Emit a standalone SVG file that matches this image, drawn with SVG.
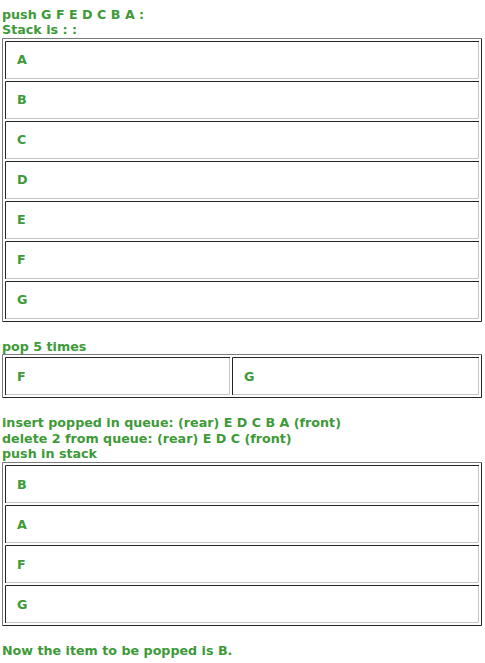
<svg xmlns="http://www.w3.org/2000/svg" width="485" height="663" viewBox="0 0 485 663">
<style>
text{font-family:"DejaVu Sans","Verdana",sans-serif;font-weight:bold;font-size:12.7px;fill:#3e9a38}
.og{fill:none;stroke:#7a7a7a;stroke-width:1}
.od{fill:none;stroke:#262626;stroke-width:1}
.cd{fill:none;stroke:#262626;stroke-width:1}
.cl{fill:none;stroke:#c4c4c4;stroke-width:1}
</style>
<rect width="485" height="663" fill="#fff"/>
<g id="captions">
<text x="2" y="19">push G F E D C B A :</text>
<text x="2" y="34">Stack is : :</text>
<text x="2" y="351">pop 5 times</text>
<text x="2" y="427">insert popped in queue: (rear) E D C B A (front)</text>
<text x="2" y="443">delete 2 from queue: (rear) E D C (front)</text>
<text x="2" y="458">push in stack</text>
<text x="2" y="655">Now the item to be popped is B.</text>
</g>
<g id="stack1">
<path class="og" d="M2.5,322V38.5H482"/><path class="od" d="M481.5,39V321.5H3"/>
<g id="s1-A"><path class="cd" d="M5.5,79V41.5H479"/><path class="cl" d="M478.5,42V78.5H6"/><text x="17" y="64">A</text></g>
<g id="s1-B"><path class="cd" d="M5.5,119V81.5H479"/><path class="cl" d="M478.5,82V118.5H6"/><text x="17" y="104">B</text></g>
<g id="s1-C"><path class="cd" d="M5.5,159V121.5H479"/><path class="cl" d="M478.5,122V158.5H6"/><text x="17" y="144">C</text></g>
<g id="s1-D"><path class="cd" d="M5.5,199V161.5H479"/><path class="cl" d="M478.5,162V198.5H6"/><text x="17" y="184">D</text></g>
<g id="s1-E"><path class="cd" d="M5.5,239V201.5H479"/><path class="cl" d="M478.5,202V238.5H6"/><text x="17" y="224">E</text></g>
<g id="s1-F"><path class="cd" d="M5.5,279V241.5H479"/><path class="cl" d="M478.5,242V278.5H6"/><text x="17" y="264">F</text></g>
<g id="s1-G"><path class="cd" d="M5.5,319V281.5H479"/><path class="cl" d="M478.5,282V318.5H6"/><text x="17" y="304">G</text></g>
</g>
<g id="popped">
<path class="og" d="M2.5,398V354.5H482"/><path class="od" d="M481.5,355V397.5H3"/>
<g id="p-F"><path class="cd" d="M5.5,395V357.5H230"/><path class="cl" d="M229.5,358V394.5H6"/><text x="17" y="381">F</text></g>
<g id="p-G"><path class="cd" d="M232.5,395V357.5H479"/><path class="cl" d="M478.5,358V394.5H233"/><text x="244" y="381">G</text></g>
</g>
<g id="stack2">
<path class="og" d="M2.5,626V462.5H482"/><path class="od" d="M481.5,463V625.5H3"/>
<g id="s2-B"><path class="cd" d="M5.5,503V465.5H479"/><path class="cl" d="M478.5,466V502.5H6"/><text x="17" y="489">B</text></g>
<g id="s2-A"><path class="cd" d="M5.5,543V505.5H479"/><path class="cl" d="M478.5,506V542.5H6"/><text x="17" y="529">A</text></g>
<g id="s2-F"><path class="cd" d="M5.5,583V545.5H479"/><path class="cl" d="M478.5,546V582.5H6"/><text x="17" y="569">F</text></g>
<g id="s2-G"><path class="cd" d="M5.5,623V585.5H479"/><path class="cl" d="M478.5,586V622.5H6"/><text x="17" y="609">G</text></g>
</g>
<g id="connectors"/>
</svg>
